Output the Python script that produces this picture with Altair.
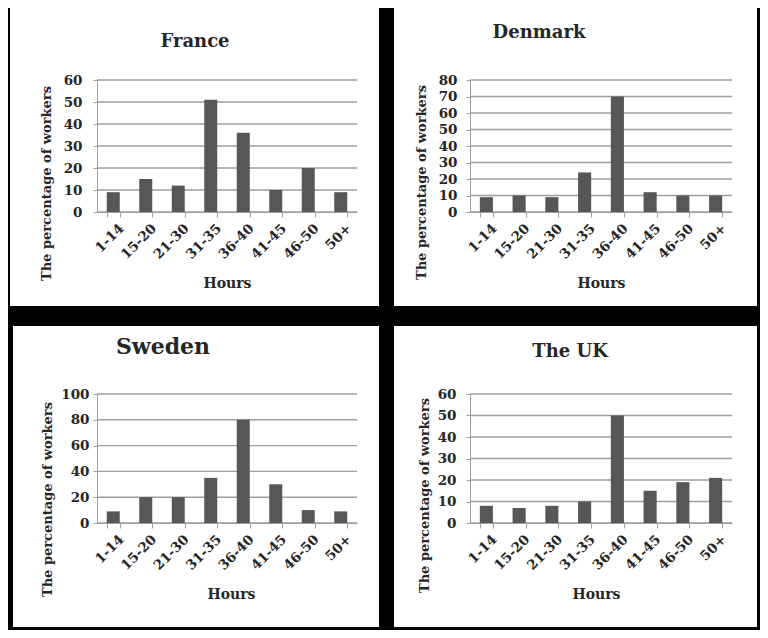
import altair as alt
import pandas as pd

categories = ["1-14", "15-20", "21-30", "31-35", "36-40", "41-45", "46-50", "50+"]
france = [9, 15, 12, 51, 36, 10, 20, 9]
denmark = [9, 10, 9, 24, 70, 12, 10, 10]
sweden = [9, 20, 20, 35, 80, 30, 10, 9]
uk = [8, 7, 8, 10, 50, 15, 19, 21]

ticks_france = [0, 10, 20, 30, 40, 50, 60]
ticks_denmark = [0, 10, 20, 30, 40, 50, 60, 70, 80]
ticks_sweden = [0, 20, 40, 60, 80, 100]
ticks_uk = [0, 10, 20, 30, 40, 50, 60]

x_title = "Hours"
y_title = "The percentage of workers"

FONT = "DejaVu Serif"
BAR = "#575757"
GRID = "#9e9e9e"
TXT = "#262626"


def panel(name, values, ticks, w, h, box, tpos, tsize, ytpos, xtpos, lpad):
    df = pd.DataFrame({"Hours": categories, "Pct": values})
    gdf = pd.DataFrame({"Pct": ticks})
    yscale = alt.Scale(domain=[ticks[0], ticks[-1]], nice=False)
    yaxis = alt.Axis(
        values=ticks, title=y_title, grid=False, zindex=1,
        labelFont=FONT, labelFontWeight="bold", labelFontSize=13.5, labelColor=TXT,
        labelPadding=lpad, tickSize=4, tickColor=GRID, domainColor=GRID,
        titleFont=FONT, titleFontWeight="bold", titleFontSize=13, titleColor=TXT,
        titleX=ytpos[0], titleY=ytpos[1], titleBaseline="middle", titleAlign="center",
    )
    xaxis = alt.Axis(
        title=x_title, grid=False, zindex=1, labelAngle=-45,
        labelFont=FONT, labelFontWeight="bold", labelFontSize=13.5, labelColor=TXT,
        labelPadding=4, labelOffset=3, tickBand="extent", tickSize=5, tickColor=GRID,
        domainColor=GRID,
        titleFont=FONT, titleFontWeight="bold", titleFontSize=14, titleColor=TXT,
        titleX=xtpos[0], titleY=xtpos[1], titleBaseline="middle", titleAlign="center",
    )
    bg = alt.Chart(pd.DataFrame({"k": [0]})).mark_rect(color="white").encode(
        x=alt.value(box[0]), x2=alt.value(box[1]), y=alt.value(box[2]), y2=alt.value(box[3])
    )
    grid = alt.Chart(gdf).mark_rule(color=GRID, strokeWidth=1.4).encode(
        y=alt.Y("Pct:Q", scale=yscale, axis=yaxis)
    )
    bars = alt.Chart(df).mark_bar(color=BAR).encode(
        x=alt.X("Hours:N", sort=categories,
                scale=alt.Scale(paddingInner=0.6, paddingOuter=0.3), axis=xaxis),
        y=alt.Y("Pct:Q", scale=yscale, axis=yaxis),
    )
    ttl = alt.Chart(pd.DataFrame({"t": [name]})).mark_text(
        font=FONT, fontWeight="bold", fontSize=tsize, color=TXT, baseline="middle", align="center"
    ).encode(text="t:N", x=alt.value(tpos[0]), y=alt.value(tpos[1]))
    return alt.layer(bg, grid, bars, ttl).properties(width=w, height=h)


p_france = panel("France", france, ticks_france, 260, 132,
                 (-87, 282, -72, 226), (98, -38), 18, (-51, 103), (130, 71), 11)
p_denmark = panel("Denmark", denmark, ticks_denmark, 262, 132,
                  (-76, 287, -72, 226), (69, -47), 18, (-49, 102), (131, 71), 9)
p_sweden = panel("Sweden", sweden, ticks_sweden, 260, 129,
                 (-84, 282, -68, 233), (66, -47), 22, (-50, 105), (134, 71), 4)
p_uk = panel("The UK", uk, ticks_uk, 262, 129,
             (-76, 287, -68, 233), (100, -42), 18, (-46, 101), (126, 71), 10)

chart = alt.concat(
    p_france, p_denmark, p_sweden, p_uk,
    columns=2, align="each", bounds="flush",
    spacing={"row": 182, "column": 113},
).properties(
    padding={"left": 2, "top": 0, "right": 3, "bottom": 3}
).configure(background="black").configure_view(strokeWidth=0)

chart.save("out.html", embed_options={"renderer": "svg", "actions": False})
